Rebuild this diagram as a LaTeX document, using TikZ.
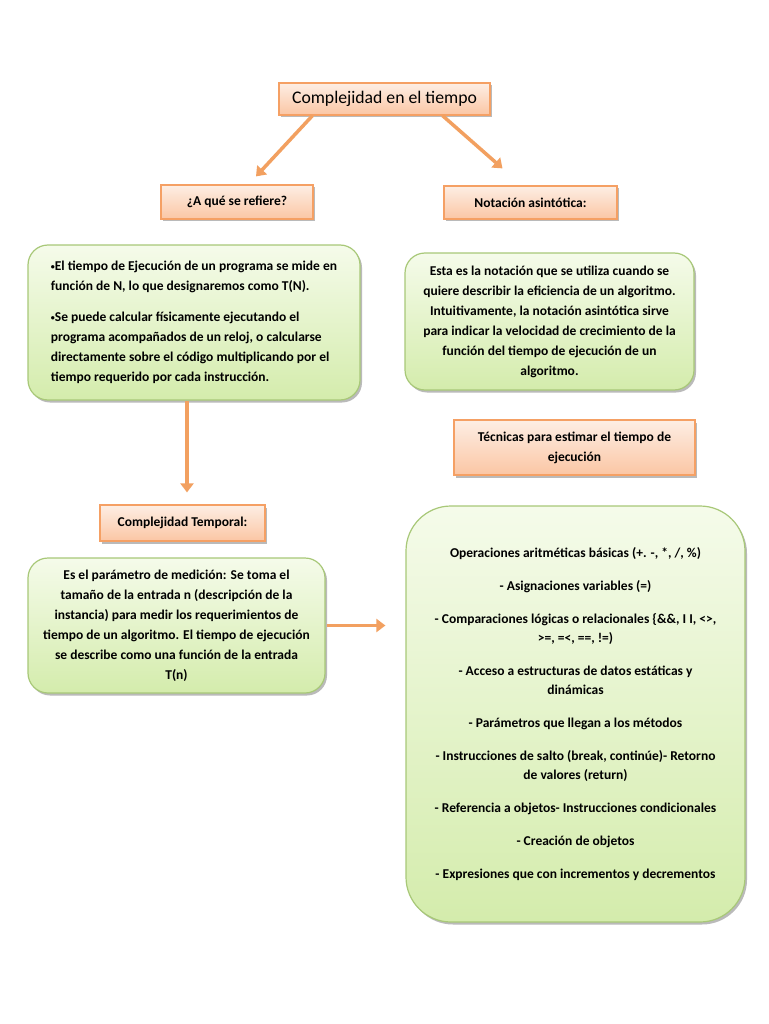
\documentclass[tikz,border=0pt]{standalone}
\usepackage{fontspec}
\setmainfont{Carlito}
\usetikzlibrary{arrows.meta,shadows}
\definecolor{peachtop}{HTML}{FDEEE4}
\definecolor{peachbot}{HTML}{FBC6A4}
\definecolor{peachline}{HTML}{F5A064}
\definecolor{greentop}{HTML}{F5FBEA}
\definecolor{greenbot}{HTML}{D4ECAC}
\definecolor{greenline}{HTML}{A8C878}
\definecolor{arrowcol}{HTML}{F2A060}
\newcommand{\dotmark}{{\fontsize{8}{8}\selectfont\raisebox{1.5pt}{•}}}
\begin{document}
\begin{tikzpicture}[
        x=1pt, y=-1pt,
        tagbox/.style={draw=peachline, line width=1.2pt, top color=peachtop, bottom color=peachbot,
            drop shadow={shadow xshift=2pt, shadow yshift=-2.5pt, fill=black!45, opacity=0.6},
            align=center, inner sep=2pt, font=\fontsize{13.5}{20}\selectfont\bfseries},
        notebox/.style={draw=greenline, line width=1.2pt, top color=greentop, bottom color=greenbot,
            rounded corners=20pt,
            drop shadow={shadow xshift=2pt, shadow yshift=-2.5pt, fill=black!45, opacity=0.6},
            align=center, inner sep=0pt, font=\fontsize{13.5}{20}\selectfont\bfseries},
        link/.style={-{Triangle[length=9pt,width=13pt]}, line width=3.5pt, draw=arrowcol}
    ]
        \useasboundingbox[fill=white] (0,0) rectangle (768,1024);

        \node[tagbox, minimum width=211pt, minimum height=32pt, font=\fontsize{17.7}{20}\selectfont] (title) at (384.5, 99) {Complejidad en el tiempo};
        \node[tagbox, minimum width=152pt, minimum height=34pt] (refiere) at (237, 202) {¿A qué se refiere?};
        \node[tagbox, minimum width=173pt, minimum height=33pt] (notacion) at (530.5, 202.5) {Notación asintótica:};

        \node[notebox, minimum width=332pt, minimum height=155pt, align=left] (ejec) at (194, 322.5) {%
            \dotmark El tiempo de Ejecución de un programa se mide en\\
            función de N, lo que designaremos como T(N).\\[11pt]
            \dotmark Se puede calcular físicamente ejecutando el\\
            programa acompañados de un reloj, o calcularse\\
            directamente sobre el código multiplicando por el\\
            tiempo requerido por cada instrucción.};
        \node[notebox, minimum width=289pt, minimum height=137pt] (eficiencia) at (549.5, 321.5) {%
            Esta es la notación que se utiliza cuando se\\
            quiere describir la eficiencia de un algoritmo.\\
            Intuitivamente, la notación asintótica sirve\\
            para indicar la velocidad de crecimiento de la\\
            función del tiempo de ejecución de un\\
            algoritmo.};

        \node[tagbox, minimum width=241pt, minimum height=55pt] (tecnicas) at (574.5, 447.5) {Técnicas para estimar el tiempo de\\ ejecución};
        \node[tagbox, minimum width=165pt, minimum height=36pt] (temporal) at (182.5, 523) {Complejidad Temporal:};

        \node[notebox, minimum width=297pt, minimum height=135pt] (medicion) at (176.5, 625.5) {%
            Es el parámetro de medición: Se toma el\\
            tamaño de la entrada n (descripción de la\\
            instancia) para medir los requerimientos de\\
            tiempo de un algoritmo. El tiempo de ejecución\\
            se describe como una función de la entrada\\
            T(n)};
        \node[notebox, minimum width=339pt, minimum height=416pt, rounded corners=45pt,
            font=\fontsize{13.5}{19}\selectfont\bfseries] (lista) at (575.5, 714) {%
            Operaciones aritméticas básicas (+. -, *, /, \%)\\[14pt]
            - Asignaciones variables (=)\\[14pt]
            - Comparaciones lógicas o relacionales \{\&\&, I I, <>,\\
            >=, =<, ==, !=)\\[14pt]
            - Acceso a estructuras de datos estáticas y\\
            dinámicas\\[14pt]
            - Parámetros que llegan a los métodos\\[14pt]
            - Instrucciones de salto (break, continúe)- Retorno\\
            de valores (return)\\[14pt]
            - Referencia a objetos- Instrucciones condicionales\\[14pt]
            - Creación de objetos\\[14pt]
            - Expresiones que con incrementos y decrementos};

        \draw[link] ([xshift=-72pt]title.south) -- ([xshift=19pt, yshift=8pt]refiere.north);
        \draw[link] ([xshift=58pt]title.south) -- ([xshift=-28pt, yshift=17pt]notacion.north);
        \draw[link] ([xshift=-7pt]ejec.south) -- ([xshift=4.5pt, yshift=12pt]temporal.north);
        \draw[link] ([xshift=1pt]medicion.east) -- ([xshift=-20pt]lista.west |- medicion.east);
    \end{tikzpicture}
\end{document}
